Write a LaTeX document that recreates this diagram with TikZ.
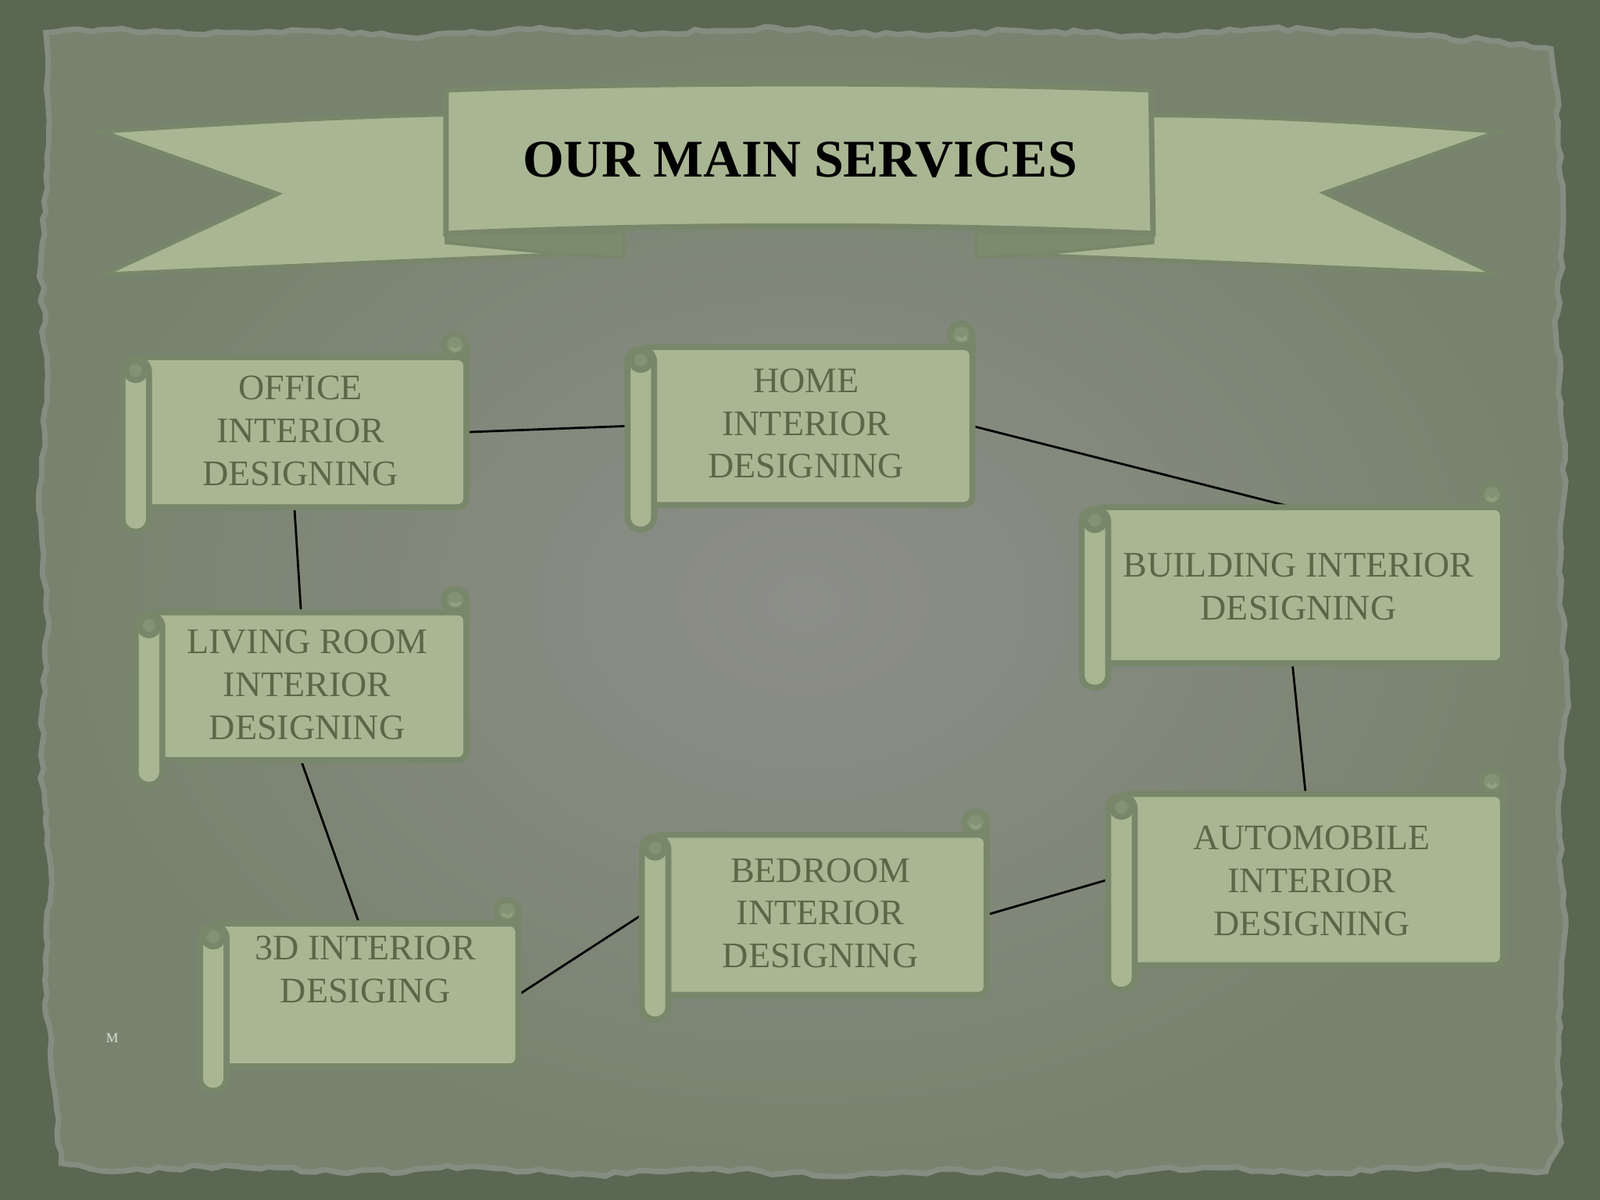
\documentclass[tikz,border=0pt]{standalone}
\usepackage{fontspec}
\setmainfont{Liberation Serif}
\usetikzlibrary{decorations.pathmorphing,calc}
\definecolor{outerbg}{HTML}{5A6752}
\definecolor{papermid}{HTML}{8D8E89}
\definecolor{paperrim}{HTML}{77836E}
\definecolor{paperedge}{HTML}{848D80}
\definecolor{ribbon}{HTML}{A9B693}
\definecolor{edgecol}{HTML}{78876A}
\definecolor{curlfill}{HTML}{839273}
\definecolor{folddark}{HTML}{7C8B6B}
\definecolor{txtgreen}{HTML}{5C6747}
\definecolor{marklight}{HTML}{DDE1D6}
\def\pxu{0.013061cm}
\pgfdeclarelayer{bg}
\pgfsetlayers{bg,main}
\tikzset{
  holder/.style={rectangle, inner sep=0pt, outer sep=0pt},
  edge/.style={draw=edgecol, line width=2.2pt, line join=round},
  bannerstyle/.style={draw=edgecol, line width=1.5pt, fill=ribbon, line join=miter},
  scrolltext/.style={text=txtgreen, align=center, inner sep=0pt, font=\fontsize{13.1}{15.6}\selectfont},
  titletext/.style={text=black, inner sep=0pt, font=\bfseries\fontsize{19.3}{22}\selectfont},
  marktext/.style={text=marklight, inner sep=0pt, font=\fontsize{5}{6}\selectfont},
  link/.style={draw=black, line width=0.8pt}
}
% #1 name, #2 x1 (roll left), #3 y1 top, #4 x2 right, #5 y2 bottom, #6 text y, #7 text
\newcommand\scrl[7]{%
  \node[holder, minimum width={(#4-#2)*\pxu}, minimum height={(#5-#3)*\pxu}] (#1) at ({(#2+#4)/2},{(#3+#5)/2}) {};
  % top-right curl
  \draw[edge, fill=curlfill] (#4-11,#3-12) circle[radius=11*\pxu];
  \draw[draw=ribbon!55!edgecol, line width=1.1pt] (#4-15,#3-10) arc[start angle=200, end angle=340, radius=4.5*\pxu];
  % sheet
  \draw[edge, fill=ribbon, rounded corners=3pt] (#2+13,#3) rectangle (#4,#5);
  \draw[edge] (#4,#3+6) -- (#4,#3-12);
  % left roll
  \draw[edge, fill=ribbon, rounded corners=4.6pt] (#2,#3+2) rectangle (#2+26,#5+24);
  \draw[edge, fill=curlfill] (#2+13,#3+13) circle[radius=9.5*\pxu];
  \node[scrolltext] (#1-t) at ({(#2+26+#4)/2-7},#6) {#7};
}
\begin{document}
\begin{tikzpicture}[x=0.013061cm,y=-0.013061cm]
\useasboundingbox (0,0) rectangle (1568,1176);
\begin{pgfonlayer}{bg}
\fill[outerbg] (0,0) rectangle (1568,1176);
\shadedraw[inner color=papermid, outer color=paperrim, draw=paperedge, line width=2pt,
  decorate, decoration={random steps, segment length=4pt, amplitude=0.9pt}]
  (45,32) -- (120,28) -- (200,34) -- (300,30) -- (420,36) -- (520,29) -- (640,33) -- (760,27)
  -- (880,34) -- (1000,30) -- (1120,35) -- (1240,28) -- (1360,33) -- (1460,40) -- (1520,48)
  -- (1527,120) -- (1532,220) -- (1525,330) -- (1534,450) -- (1528,560) -- (1536,680)
  -- (1527,800) -- (1533,920) -- (1526,1040) -- (1530,1120) -- (1515,1148)
  -- (1420,1142) -- (1300,1150) -- (1180,1144) -- (1060,1152) -- (940,1146) -- (820,1153)
  -- (700,1145) -- (580,1151) -- (460,1143) -- (340,1150) -- (220,1142) -- (110,1148) -- (60,1140)
  -- (52,1060) -- (44,960) -- (50,850) -- (40,740) -- (47,620) -- (38,500) -- (46,380)
  -- (40,260) -- (48,140) -- cycle;
% banner: left tail
\draw[bannerstyle] (100,129) .. controls (250,119) and (350,114) .. (445,112) -- (445,230)
  -- (560,249) .. controls (400,256) and (250,262) .. (102,269) -- (272,190) -- cycle;
\draw[draw=edgecol, line width=1pt, fill=folddark] (437,226) -- (611,228) -- (611,252) -- (560,250) -- (437,238) -- cycle;
% banner: right tail
\draw[bannerstyle] (1468,129) .. controls (1330,119) and (1220,113) .. (1122,113) -- (1122,230)
  -- (1010,250) .. controls (1170,256) and (1320,263) .. (1466,269) -- (1298,189) -- cycle;
\draw[draw=edgecol, line width=1pt, fill=folddark] (1130,226) -- (957,228) -- (957,252) -- (1010,250) -- (1130,238) -- cycle;
% banner: centre band
\draw[bannerstyle, line width=2pt] (437,88) .. controls (650,80) and (915,80) .. (1128,88)
  -- (1130,229) .. controls (915,219) and (650,219) .. (437,229) -- cycle;
\end{pgfonlayer}
\node[titletext] (title) at (784,157) {OUR MAIN SERVICES};

\scrl{office}{120}{350}{457}{497}{422}{OFFICE\\INTERIOR\\DESIGNING}
\scrl{home}{615}{340}{953}{495}{415}{HOME\\INTERIOR\\DESIGNING}
\scrl{building}{1060}{497}{1473}{650}{575}{BUILDING INTERIOR\\DESIGNING}
\scrl{living}{133}{600}{457}{745}{671}{LIVING ROOM\\INTERIOR\\DESIGNING}
\scrl{threed}{196}{905}{508}{1045}{950}{3D INTERIOR\\DESIGING}
\scrl{bedroom}{629}{818}{967}{975}{895}{BEDROOM\\INTERIOR\\DESIGNING}
\scrl{auto}{1086}{778}{1473}{946}{863}{AUTOMOBILE\\INTERIOR\\DESIGNING}

\begin{pgfonlayer}{bg}
\draw[link] (office.east) -- (home.west);
\draw[link] (home.east) -- (building.north);
\draw[link] (building.south) -- (auto.north);
\draw[link] (auto.west) -- (bedroom.east);
\draw[link] (bedroom.west) -- (threed.east);
\draw[link] (threed.north) -- (living.south);
\draw[link] (living.north) -- (office.south);
\end{pgfonlayer}

\node[marktext] (mark) at (110,1017) {M};
\end{tikzpicture}
\end{document}
